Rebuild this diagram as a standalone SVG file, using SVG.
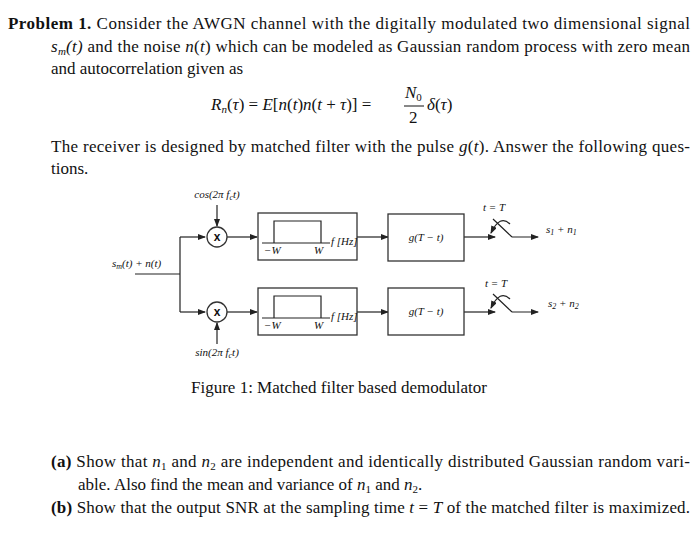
<svg xmlns="http://www.w3.org/2000/svg" width="700" height="535" viewBox="0 0 700 535">
<defs>
<marker id="ar" markerWidth="8" markerHeight="6" refX="7" refY="3" orient="auto" markerUnits="userSpaceOnUse"><path d="M0,0 L8,3 L0,6 z" fill="#222"/></marker>
<style>
text{font-family:"Liberation Serif","Times New Roman",serif;fill:#111}
.t{font-size:17px}
.s{font-size:11px;font-style:italic}
.ln{stroke:#222;stroke-width:1.2;fill:none}
.bx{stroke:#333;stroke-width:1.3;fill:#fff}
</style>
</defs>
<rect width="700" height="535" fill="#fff"/>
<g id="text">
<text class="t" x="8" y="29" textLength="682" lengthAdjust="spacing"><tspan font-weight="bold">Problem 1.</tspan> Consider the AWGN channel with the digitally modulated two dimensional signal</text>
<text class="t" x="51" y="52" textLength="639" lengthAdjust="spacing"><tspan font-style="italic">s<tspan font-size="11" dy="3">m</tspan><tspan dy="-3">(t)</tspan></tspan> and the noise <tspan font-style="italic">n</tspan>(<tspan font-style="italic">t</tspan>) which can be modeled as Gaussian random process with zero mean</text>
<text class="t" x="51" y="74">and autocorrelation given as</text>
<text class="t" x="211" y="110"><tspan font-style="italic">R<tspan font-size="11" dy="3">n</tspan></tspan><tspan dy="-3">(</tspan><tspan font-style="italic">τ</tspan>) = <tspan font-style="italic">E</tspan>[<tspan font-style="italic">n</tspan>(<tspan font-style="italic">t</tspan>)<tspan font-style="italic">n</tspan>(<tspan font-style="italic">t</tspan> + <tspan font-style="italic">τ</tspan>)] =</text>
<text class="t" x="405" y="98"><tspan font-style="italic">N</tspan><tspan font-size="11" dy="3">0</tspan></text>
<line x1="404" y1="106" x2="424" y2="106" stroke="#111" stroke-width="1"/>
<text class="t" x="409" y="123">2</text>
<text class="t" x="427" y="110"><tspan font-style="italic">δ</tspan>(<tspan font-style="italic">τ</tspan>)</text>
<text class="t" x="51" y="152" textLength="639" lengthAdjust="spacing">The receiver is designed by matched filter with the pulse <tspan font-style="italic">g</tspan>(<tspan font-style="italic">t</tspan>). Answer the following ques-</text>
<text class="t" x="51" y="174">tions.</text>
<text class="t" x="191" y="393">Figure 1: Matched filter based demodulator</text>
<text class="t" x="51" y="467" textLength="639" lengthAdjust="spacing"><tspan font-weight="bold">(a)</tspan> Show that <tspan font-style="italic">n</tspan><tspan font-size="11" dy="3">1</tspan><tspan dy="-3"> and </tspan><tspan font-style="italic">n</tspan><tspan font-size="11" dy="3">2</tspan><tspan dy="-3"> are independent and identically distributed Gaussian random vari-</tspan></text>
<text class="t" x="78" y="490">able. Also find the mean and variance of <tspan font-style="italic">n</tspan><tspan font-size="11" dy="3">1</tspan><tspan dy="-3"> and </tspan><tspan font-style="italic">n</tspan><tspan font-size="11" dy="3">2</tspan><tspan dy="-3">.</tspan></text>
<text class="t" x="51" y="513" textLength="639" lengthAdjust="spacing"><tspan font-weight="bold">(b)</tspan> Show that the output SNR at the sampling time <tspan font-style="italic">t</tspan> = <tspan font-style="italic">T</tspan> of the matched filter is maximized.</text>
</g>
<g id="connectors">
<path class="ln" d="M135,274 H180 M180,237 V312"/>
<path class="ln" d="M180,237 H205" marker-end="url(#ar)"/>
<path class="ln" d="M180,312 H205" marker-end="url(#ar)"/>
<path class="ln" d="M217,205 V226" marker-end="url(#ar)"/>
<path class="ln" d="M217,344 V323" marker-end="url(#ar)"/>
<path class="ln" d="M227,237 H257" marker-end="url(#ar)"/>
<path class="ln" d="M227,312 H257" marker-end="url(#ar)"/>
<path class="ln" d="M357,237 H388" marker-end="url(#ar)"/>
<path class="ln" d="M357,312 H388" marker-end="url(#ar)"/>
<path class="ln" d="M464,237 H495" marker-end="url(#ar)"/>
<path class="ln" d="M464,312 H495" marker-end="url(#ar)"/>
<path class="ln" d="M512,237 L493,219 M512,237 H538" marker-end="url(#ar)"/>
<path class="ln" d="M512,312 L493,294 M512,312 H538" marker-end="url(#ar)"/>
<path class="ln" d="M510,224 Q500,214 491,233" marker-end="url(#ar)"/>
<path class="ln" d="M510,299 Q500,289 491,308" marker-end="url(#ar)"/>
</g>
<g id="input"><text class="s" x="112" y="267">s<tspan font-size="8" dy="2">m</tspan><tspan dy="-2">(t) + n(t)</tspan></text></g>
<g id="mult1"><circle cx="217" cy="237" r="10" class="bx"/><text x="217" y="241" font-size="12" font-weight="bold" text-anchor="middle" style="font-family:'Liberation Sans',sans-serif">x</text>
<text class="s" x="217" y="198" text-anchor="middle">cos(2π f<tspan font-size="8" dy="2">c</tspan><tspan dy="-2">t)</tspan></text></g>
<g id="mult2"><circle cx="217" cy="312" r="10" class="bx"/><text x="217" y="316" font-size="12" font-weight="bold" text-anchor="middle" style="font-family:'Liberation Sans',sans-serif">x</text>
<text class="s" x="217" y="356" text-anchor="middle">sin(2π f<tspan font-size="8" dy="2">c</tspan><tspan dy="-2">t)</tspan></text></g>
<g id="lpf1"><rect class="bx" x="258" y="213" width="99" height="47"/><path class="ln" d="M262,243 H330 M274,243 V221 H321 V243"/>
<text class="s" x="264" y="254">−W</text><text class="s" x="314" y="254">W</text><text class="s" x="331" y="245" font-size="8">f [Hz]</text></g>
<g id="lpf2"><rect class="bx" x="258" y="288" width="99" height="47"/><path class="ln" d="M262,318 H330 M274,318 V296 H321 V318"/>
<text class="s" x="264" y="329">−W</text><text class="s" x="314" y="329">W</text><text class="s" x="331" y="320" font-size="8">f [Hz]</text></g>
<g id="mf1"><rect class="bx" x="388" y="214" width="76" height="47"/><text class="s" x="426" y="241" text-anchor="middle">g(T − t)</text></g>
<g id="mf2"><rect class="bx" x="388" y="288" width="76" height="47"/><text class="s" x="426" y="315" text-anchor="middle">g(T − t)</text></g>
<g id="out1"><text class="s" x="483" y="211">t = T</text><text class="s" x="546" y="233">s<tspan font-size="8" dy="2">1</tspan><tspan dy="-2"> + n</tspan><tspan font-size="8" dy="2">1</tspan></text></g>
<g id="out2"><text class="s" x="485" y="287">t = T</text><text class="s" x="548" y="307">s<tspan font-size="8" dy="2">2</tspan><tspan dy="-2"> + n</tspan><tspan font-size="8" dy="2">2</tspan></text></g>
</svg>
